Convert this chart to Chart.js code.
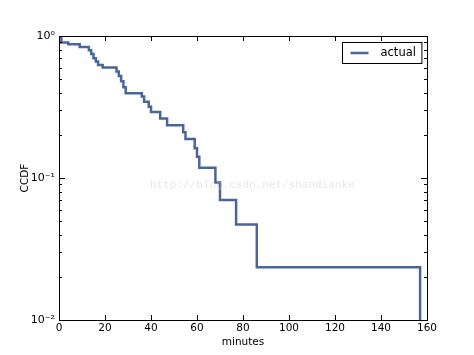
<!DOCTYPE html>
<html>
<head>
<meta charset="utf-8">
<script src="https://cdn.jsdelivr.net/npm/chart.js@4/dist/chart.umd.min.js"></script>
<style>
  body { margin: 0; background: #fff; }
  #wrap { width: 474px; height: 355px; }
</style>
</head>
<body>
<div id="wrap"><canvas id="ccdf" width="474" height="355"></canvas></div>
<script>
// --- données ---
const minutes = [0, 1, 4, 9, 13, 14, 15, 16, 17, 19, 25, 26, 27, 28, 29, 36, 37, 39, 40, 44, 47, 54, 55, 59, 60, 61, 68, 70, 77, 86, 157];
const ccdf = [1.0, 0.90, 0.875, 0.835, 0.795, 0.747, 0.698, 0.66, 0.625, 0.60, 0.562, 0.523, 0.48, 0.435, 0.395, 0.375, 0.345, 0.318, 0.292, 0.262, 0.235, 0.21, 0.188, 0.162, 0.141, 0.118, 0.093, 0.07, 0.047, 0.0235, 0.005];
const xTicks = [0, 20, 40, 60, 80, 100, 120, 140, 160];
const yTicks = [0.01, 0.1, 1];
const seriesLabel = 'actual';

const lineColor = '#4a6699';
const font = 'DejaVu Sans';

// exposant en caractères unicode
function sup(n) {
    const map = { '-': '\u207B', '0': '\u2070', '1': '\u00B9', '2': '\u00B2', '3': '\u00B3' };
    return String(n).split('').map(c => map[c]).join('');
}

// cadre + graduations vers l'intérieur (style matplotlib)
const frameTicks = {
    id: 'frameTicks',
    afterDatasetsDraw(chart) {
        const { ctx, chartArea: a, scales: { x, y } } = chart;
        ctx.save();
        ctx.strokeStyle = '#000';
        ctx.lineWidth = 1;
        ctx.beginPath();
        xTicks.forEach(v => {
            const px = Math.round(x.getPixelForValue(v)) + 0.5;
            ctx.moveTo(px, a.bottom); ctx.lineTo(px, a.bottom - 5);
            ctx.moveTo(px, a.top); ctx.lineTo(px, a.top + 5);
        });
        for (let e = -2; e <= 0; e++) {
            for (let k = 1; k <= 9; k++) {
                const v = k * Math.pow(10, e);
                if (v > 1.0001) break;
                const py = Math.round(y.getPixelForValue(v)) + 0.5;
                const len = k === 1 ? 6 : 3;
                ctx.moveTo(a.left, py); ctx.lineTo(a.left + len, py);
                ctx.moveTo(a.right, py); ctx.lineTo(a.right - len, py);
            }
        }
        ctx.stroke();
        ctx.strokeRect(Math.round(a.left) + 0.5, Math.round(a.top) + 0.5,
            Math.round(a.right - a.left), Math.round(a.bottom - a.top));
        ctx.restore();
    }
};

// légende dans le coin haut droit
const boxLegend = {
    id: 'boxLegend',
    afterDraw(chart) {
        const { ctx, chartArea: a } = chart;
        const ds = chart.data.datasets[0];
        ctx.save();
        ctx.font = '11.5px "' + font + '"';
        const tw = ctx.measureText(ds.label).width;
        const w = 8 + 18 + 12 + tw + 6, h = 21;
        const x0 = Math.round(a.right - 6 - w) + 0.5, y0 = Math.round(a.top + 6) + 0.5;
        ctx.fillStyle = '#fff';
        ctx.fillRect(x0, y0, w, h);
        ctx.strokeStyle = '#000';
        ctx.lineWidth = 1;
        ctx.strokeRect(x0, y0, w, h);
        ctx.strokeStyle = ds.borderColor;
        ctx.lineWidth = ds.borderWidth;
        ctx.beginPath();
        ctx.moveTo(x0 + 8, y0 + h / 2);
        ctx.lineTo(x0 + 26, y0 + h / 2);
        ctx.stroke();
        ctx.fillStyle = '#000';
        ctx.textBaseline = 'middle';
        ctx.fillText(ds.label, x0 + 38, y0 + h / 2);
        ctx.restore();
    }
};

// filigrane du blog
const watermark = {
    id: 'watermark',
    afterDatasetsDraw(chart) {
        const { ctx } = chart;
        ctx.save();
        ctx.font = '11px "Liberation Mono"';
        ctx.fillStyle = 'rgba(200,200,200,0.45)';
        ctx.textBaseline = 'alphabetic';
        ctx.fillText('http://blog.csdn.net/shandianke', 150, 188);
        ctx.restore();
    }
};

new Chart(document.getElementById('ccdf'), {
    type: 'line',
    data: {
        datasets: [{
            label: seriesLabel,
            data: minutes.map((m, i) => ({ x: m, y: ccdf[i] })),
            borderColor: lineColor,
            borderWidth: 2.5,
            pointRadius: 0,
            stepped: 'before',
            fill: false
        }]
    },
    options: {
        responsive: false,
        animation: false,
        devicePixelRatio: 1,
        layout: { padding: { left: 0, top: 36, right: 47, bottom: 0 } },
        plugins: { legend: { display: false }, tooltip: { enabled: false } },
        scales: {
            x: {
                type: 'linear', min: 0, max: 160,
                afterBuildTicks: s => { s.ticks = xTicks.map(v => ({ value: v })); },
                afterFit: s => { s.height = 35; },
                grid: { display: false, drawTicks: false },
                border: { display: false },
                ticks: { autoSkip: false, maxRotation: 0, padding: 2, color: '#000', font: { family: font, size: 10.5 } },
                title: { display: true, text: 'minutes', color: '#000', font: { family: font, size: 10.5 }, padding: { top: 0, bottom: 6 } }
            },
            y: {
                type: 'logarithmic', min: 0.01, max: 1,
                afterBuildTicks: s => { s.ticks = yTicks.map(v => ({ value: v })); },
                afterFit: s => { s.width = 59; },
                grid: { display: false, drawTicks: false },
                border: { display: false },
                ticks: {
                    autoSkip: false, padding: 4, color: '#000', font: { family: font, size: 11 },
                    callback: v => '10' + sup(Math.round(Math.log10(v)))
                },
                title: { display: true, text: 'CCDF', color: '#000', font: { family: font, size: 10.5 }, padding: { top: 19, bottom: 0 } }
            }
        }
    },
    plugins: [frameTicks, watermark, boxLegend]
});
</script>
</body>
</html>
